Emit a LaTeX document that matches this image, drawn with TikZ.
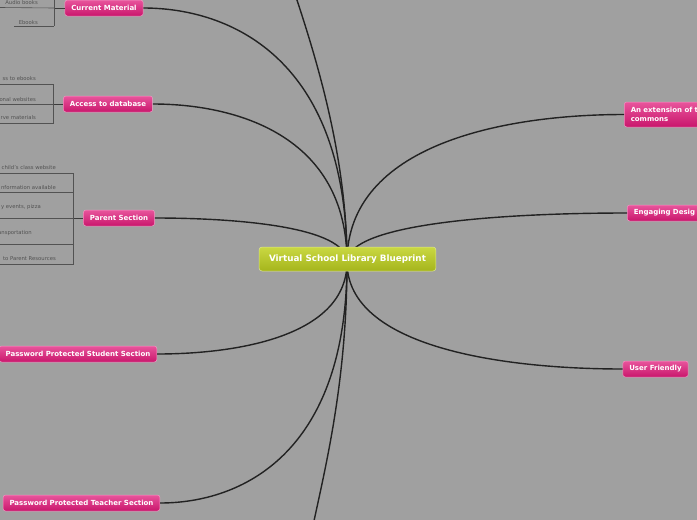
\documentclass[tikz,border=0pt]{standalone}
\usepackage{fontspec}
\setmainfont{DejaVu Sans}
\usetikzlibrary{calc,positioning}
\definecolor{canvas}{HTML}{A0A0A0}
\definecolor{pinktop}{HTML}{E8559C}
\definecolor{pinkbot}{HTML}{C9166C}
\definecolor{greentop}{HTML}{CAD842}
\definecolor{greenbot}{HTML}{A5B51C}
\definecolor{linkcol}{HTML}{222222}
\definecolor{leafcol}{HTML}{525252}
\tikzset{topic/.style={rounded corners=2.5pt, top color=pinktop, bottom color=pinkbot,
        draw=pinktop!60!white, line width=0.5pt, text=white, inner xsep=6.5pt, inner ysep=0pt,
        minimum height=16pt, font=\fontsize{7}{8.4}\selectfont\bfseries},
    root/.style={rounded corners=3pt, top color=greentop, bottom color=greenbot,
        draw=greentop!60!white, line width=0.5pt, text=white, inner xsep=10pt, inner ysep=0pt,
        minimum height=24pt, font=\fontsize{8.8}{10}\selectfont\bfseries},
    link/.style={draw=linkcol, line width=1.4pt},
    twig/.style={draw=linkcol!80!canvas, line width=0.9pt},
    bracket/.style={draw=leafcol, line width=0.6pt},
    leaf/.style={anchor=base east, inner sep=0pt, text=leafcol, font=\fontsize{5.3}{6}\selectfont}}
% curve from the centre to a topic
\newcommand\branch[1]{\draw[link] (hub) .. controls ($(hub)!0.8!(hub|-#1)$) and ($(#1)!0.43!(#1-|hub)$) .. (#1);}

\begin{document}
\begin{tikzpicture}[x=1pt, y=1pt]
    \fill[canvas] (0,0) rectangle (697,-520);
    \useasboundingbox (0,0) rectangle (697,-520);
    \coordinate (hub) at (347,-262);
    \coordinate (up) at (291,18);
    \coordinate (down) at (310,-540);

    % left topics
    \node[topic] (cm) at (104,-8) {Current Material};
    \node[topic] (adb) at (108,-104) {Access to database};
    \node[topic] (ps) at (119,-218) {Parent Section};
    \node[topic] (pss) at (78,-354) {Password Protected Student Section};
    \node[topic] (pts) at (81.5,-503) {Password Protected Teacher Section};
    % right topics
    \node[topic, anchor=west, minimum height=25pt, text width=90pt, align=left,
        font=\fontsize{7}{9.5}\selectfont\bfseries] (ext) at (624,-114.5) {An extension of t\\commons};
    \node[topic, anchor=west, text width=90pt, align=left] (eng) at (627,-213) {Engaging Desig};
    \node[topic] (uf) at (655.5,-369) {User Friendly};

    % connectors
    \draw[link] (hub) .. controls (347,-150) and (312,-45) .. (up);
    \draw[link] (hub) .. controls (347,-390) and (322,-480) .. (down);
    \branch{cm.east}
    \branch{adb.east}
    \branch{ps.east}
    \branch{pss.east}
    \branch{pts.east}
    \branch{ext.west}
    \branch{eng.west}
    \branch{uf.west}

    % Current Material leaves
    \coordinate (cmj) at (54,-8);
    \draw[twig] (cm.west) -- (cmj);
    \draw[bracket] (54,4) -- (54,-26);
    \draw[bracket] (0,-7.5) -- (cmj);
    \draw[bracket] (14,-26) -- (54,-26);
    \node[leaf] (cm1) at (38,-4) {Audio books};
    \node[leaf] (cm2) at (38,-24) {Ebooks};

    % Access to database leaves
    \coordinate (adbj) at (53,-104);
    \draw[twig] (adb.west) -- (adbj);
    \draw[bracket] (0,-84) -- (53,-84) -- (53,-123) -- (0,-123);
    \draw[bracket] (0,-104) -- (adbj);
    \node[leaf] (adb1) at (36,-80) {ss to ebooks};
    \node[leaf] (adb2) at (36,-101) {onal websites};
    \node[leaf] (adb3) at (36,-119) {rve materials};

    % Parent Section leaves
    \coordinate (psj) at (73,-218);
    \draw[twig] (ps.west) -- (psj);
    \draw[bracket] (0,-173) -- (73,-173) -- (73,-264) -- (0,-264);
    \foreach \y in {192,218,244}
        \draw[bracket] (0,-\y) -- (73,-\y);
    \node[leaf] (ps1) at (56,-169) {child's class website};
    \node[leaf] (ps2) at (56,-189) {nformation available};
    \node[leaf] (ps3) at (41,-208) {y events, pizza};
    \node[leaf] (ps4) at (32,-234) {ransportation};
    \node[leaf] (ps5) at (56,-260) {to Parent Resources};

    % centre on top
    \node[root] (vslb) at (347.5,-259) {Virtual School Library Blueprint};
\end{tikzpicture}
\end{document}
